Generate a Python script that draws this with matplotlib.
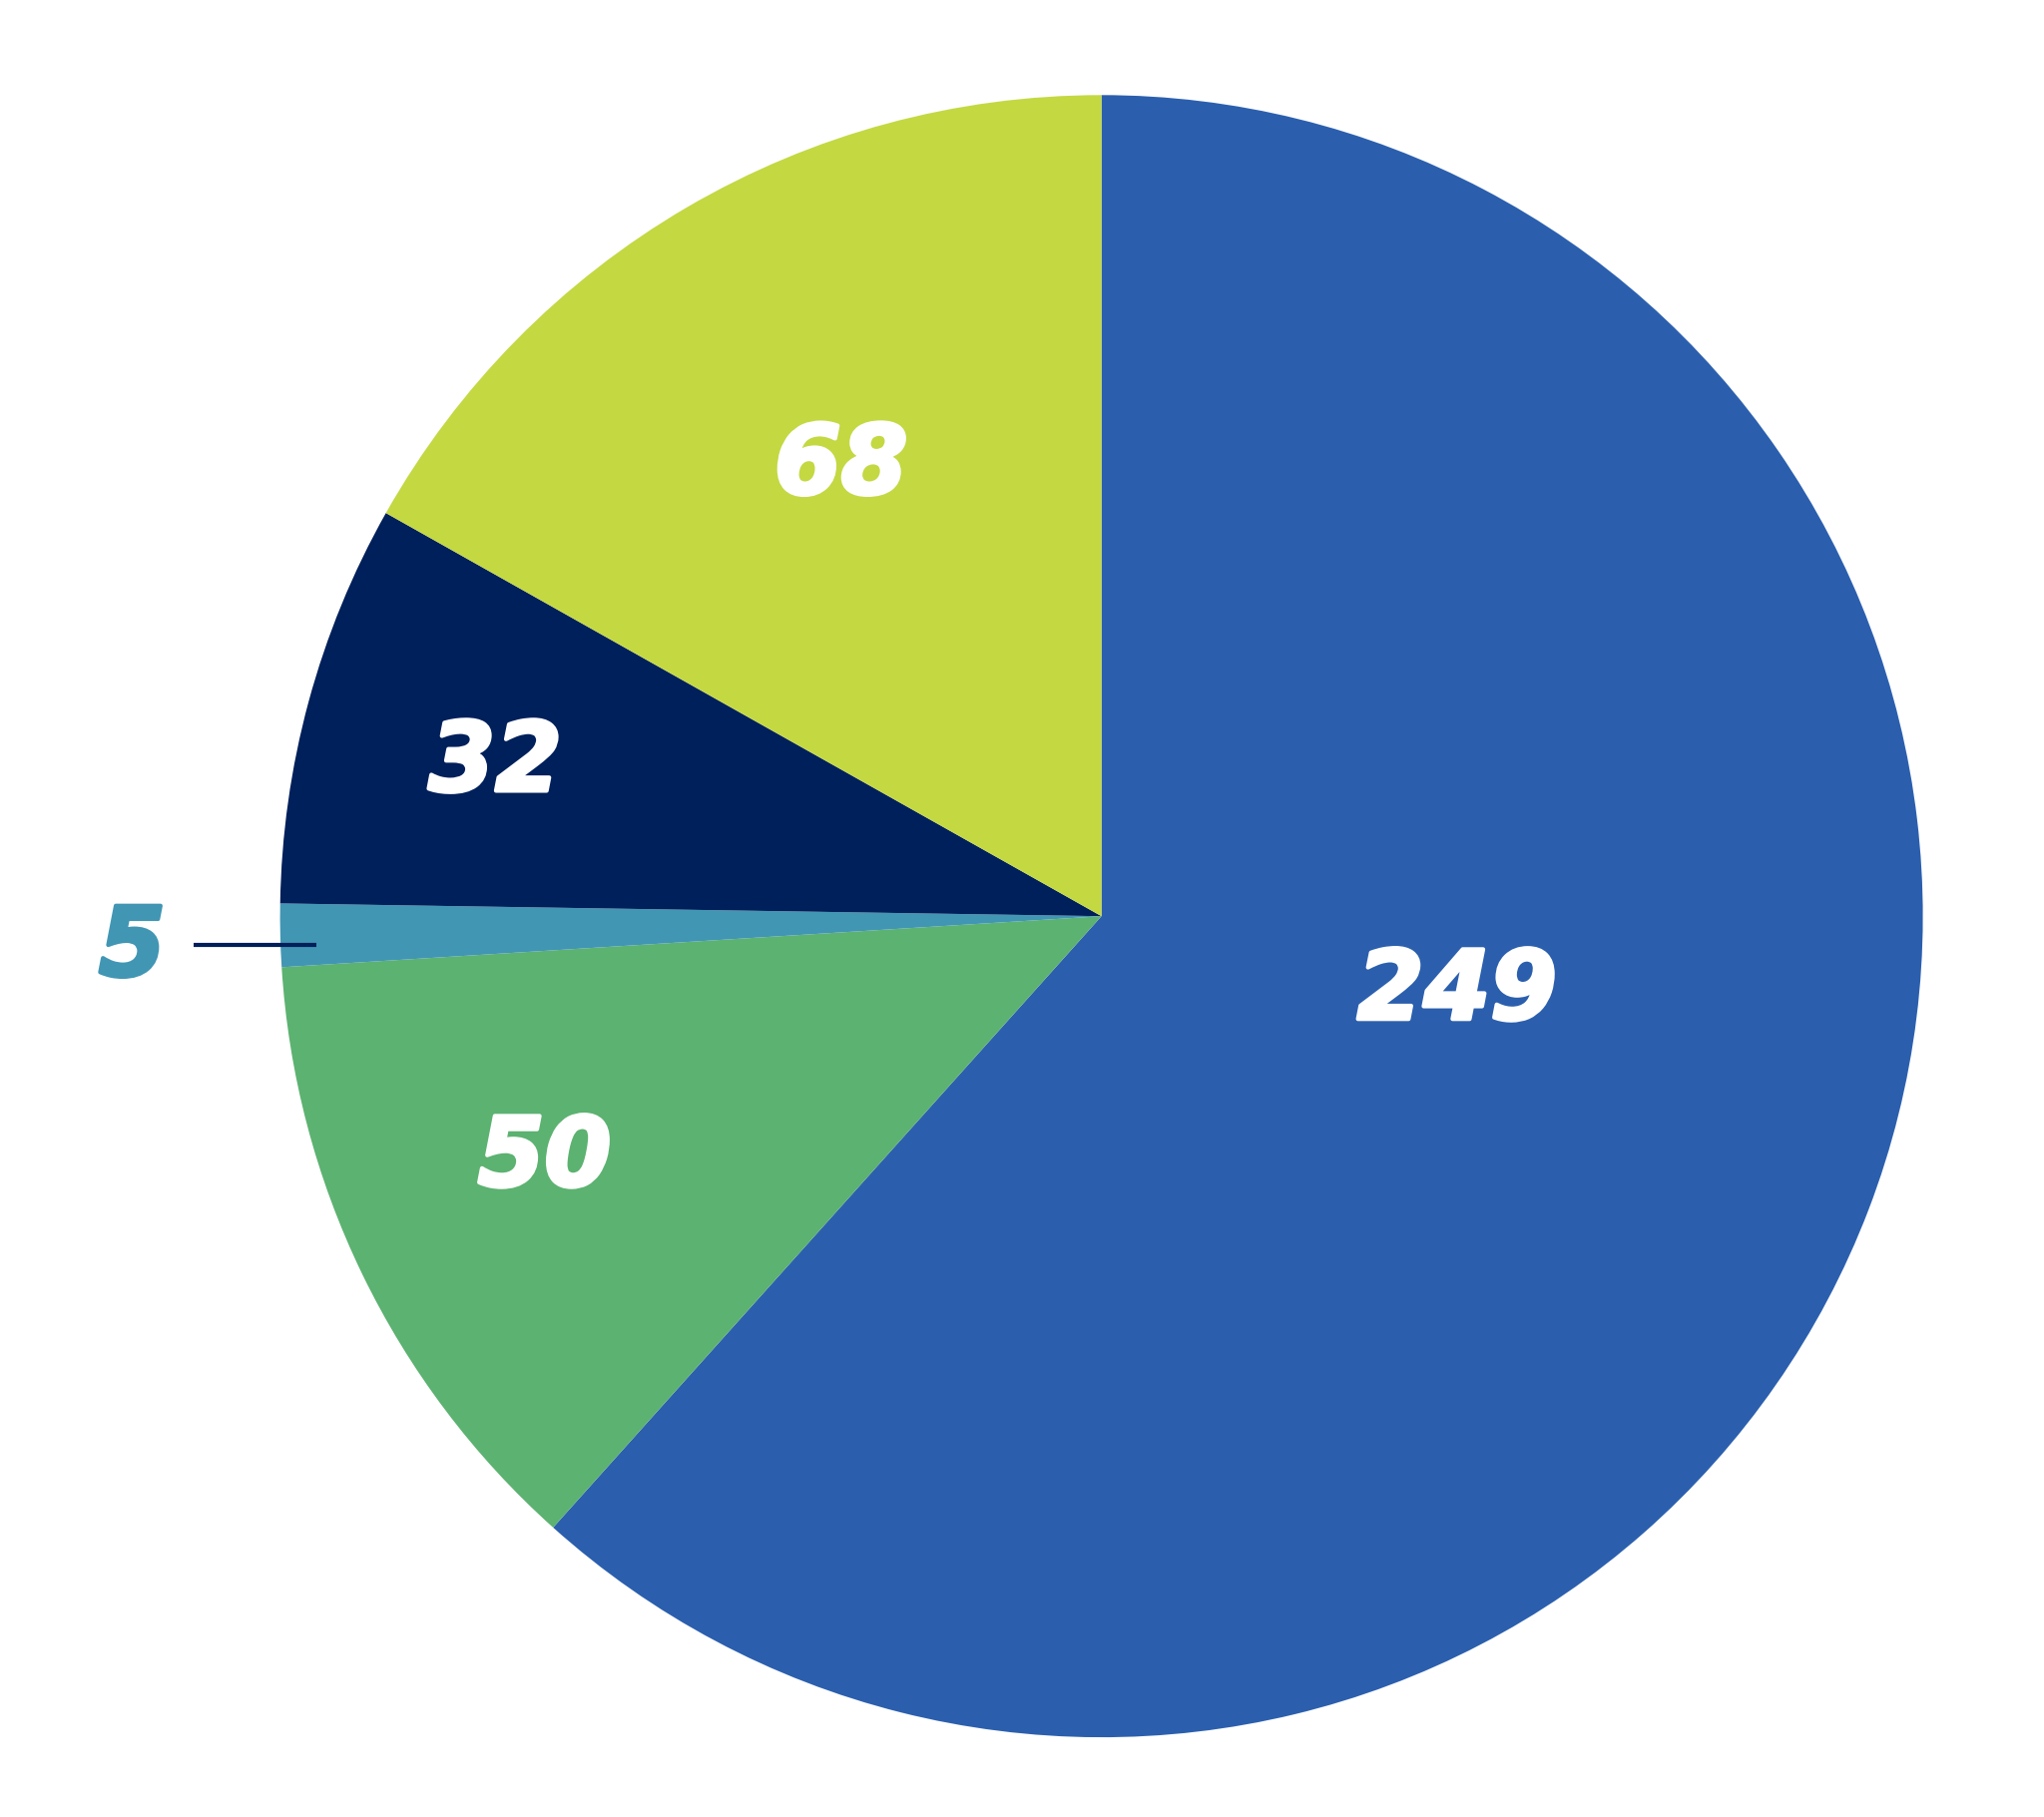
import matplotlib
matplotlib.use("Agg")
import matplotlib.pyplot as plt
import matplotlib.patheffects as pe

# Datos del gráfico (en sentido horario desde arriba)
valores = [249, 50, 5, 32, 68]
etiquetas = ["249", "50", "5", "32", "68"]
colores = ["#2B5FAE", "#5CB270", "#4196B4", "#00205B", "#C4D842"]

fig = plt.figure(figsize=(20.48, 18.21), dpi=100)
ax = fig.add_axes([0, 0, 1, 1])

wedges, _ = ax.pie(valores, colors=colores, startangle=90, counterclock=False,
                   radius=1, center=(0, 0), wedgeprops=dict(linewidth=0))

# Posiciones de las etiquetas (en unidades del radio)
pos_etiquetas = [(0.433, -0.093), (-0.678, -0.296), (-1.18, -0.04),
                 (-0.738, 0.185), (-0.317, 0.547)]
color_texto = ["white", "white", colores[2], "white", "white"]
fuente = dict(family="DejaVu Sans", fontweight="bold",
              style="oblique", fontsize=69, ha="center", va="center")
for txt, (x, y), c in zip(etiquetas, pos_etiquetas, color_texto):
    ax.text(x, y, txt, color=c,
            path_effects=[pe.withStroke(linewidth=3, foreground=c)], **fuente)

# Línea guía para la porción pequeña
ax.plot([-1.105, -0.956], [-0.035, -0.035], color=colores[3], linewidth=3,
        solid_capstyle="butt")

ax.set_xlim(-1.341, 1.1475)
ax.set_ylim(-1.0971, 1.1158)
ax.set_aspect("auto")
ax.axis("off")

fig.savefig("out.png", dpi=100, facecolor="white")
